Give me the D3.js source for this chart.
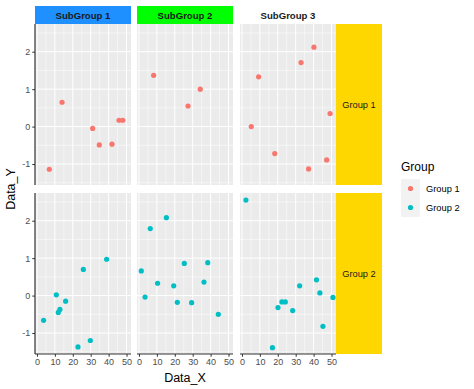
<!DOCTYPE html>
<html>
<head>
<meta charset="utf-8">
<script src="https://cdn.jsdelivr.net/npm/d3@7"></script>
<style>
body { margin: 0; background: #fff; }
text { font-family: "Liberation Sans", Arial, sans-serif; }
</style>
</head>
<body>
<svg id="chart" width="474" height="389"></svg>
<script>
// facet labels
var subGroups = ["SubGroup 1", "SubGroup 2", "SubGroup 3"];
var groups = ["Group 1", "Group 2"];
var xTicks = [0, 10, 20, 30, 40, 50];
var yTicks = [-1, 0, 1, 2];

// points per panel: [x, y]
var g1s1 = [[6.9,-1.14],[14,0.65],[31.1,-0.05],[34.8,-0.49],[41.9,-0.47],[45.8,0.17],[47.9,0.17]];
var g1s2 = [[8.2,1.37],[27.4,0.55],[34.2,1.0]];
var g1s3 = [[40.2,2.12],[33,1.71],[9.3,1.33],[49.2,0.35],[5.2,0.0],[18.3,-0.72],[47.3,-0.89],[37.2,-1.13]];
var g2s1 = [[3.7,-0.66],[10.8,0.02],[11.9,-0.45],[12.8,-0.37],[16,-0.15],[25.9,0.7],[38.9,0.97],[22.9,-1.37],[29.8,-1.2]];
var g2s2 = [[1.3,0.66],[3.4,-0.04],[6.3,1.79],[10.4,0.33],[15.3,2.08],[19.4,0.26],[21.4,-0.18],[25.3,0.86],[29.4,-0.19],[36.3,0.36],[38.4,0.88],[44.3,-0.5]];
var g2s3 = [[2.2,2.55],[17,-1.39],[20.1,-0.32],[22.3,-0.17],[24.2,-0.17],[28.3,-0.4],[32.2,0.26],[41.6,0.42],[43.5,0.07],[50.8,-0.05],[45.2,-0.82]];
var panelData = [[g1s1, g1s2, g1s3], [g2s1, g2s2, g2s3]];

var groupColors = ["#F8766D", "#00BFC4"];
var stripColors = ["#1E90FF", "#00FF00", "#FFFFFF"];

var svg = d3.select("#chart");

var colLeft = [35, 137, 240], panelW = 96;
var rowTop = [24, 193], panelH = 161;

var x = d3.scaleLinear().domain([-1.1, 52.5]).range([0, panelW]);
var y = d3.scaleLinear().domain([-1.56, 2.74]).range([panelH, 0]);

var xMinor = [5, 15, 25, 35, 45];
var yMinor = [-1.5, -0.5, 0.5, 1.5, 2.5];
var fmt = function(d) { return String(d); };

// top strips
subGroups.forEach(function(s, c) {
    svg.append("rect").attr("x", colLeft[c]).attr("y", 6).attr("width", panelW).attr("height", 18)
        .attr("fill", stripColors[c]);
    svg.append("text").attr("x", colLeft[c] + panelW / 2).attr("y", 18.5)
        .attr("text-anchor", "middle").attr("font-size", 9.6).attr("font-weight", "bold")
        .attr("fill", "#1a1a1a").text(s);
});

groups.forEach(function(gname, r) {
    // right strip
    svg.append("rect").attr("x", 336).attr("y", rowTop[r]).attr("width", 46).attr("height", panelH)
        .attr("fill", "#FFD700");
    svg.append("text").attr("x", 359).attr("y", rowTop[r] + panelH / 2 + 3.3)
        .attr("text-anchor", "middle").attr("font-size", 9.3).attr("fill", "#1a1a1a").text(gname);

    subGroups.forEach(function(s, c) {
        var p = svg.append("g").attr("transform", "translate(" + colLeft[c] + "," + rowTop[r] + ")");
        p.append("rect").attr("width", panelW).attr("height", panelH).attr("fill", "#EBEBEB");
        p.selectAll(".xmin").data(xMinor).enter().append("line")
            .attr("x1", x).attr("x2", x).attr("y1", 0).attr("y2", panelH)
            .attr("stroke", "#fff").attr("stroke-width", 0.5);
        p.selectAll(".ymin").data(yMinor).enter().append("line")
            .attr("y1", y).attr("y2", y).attr("x1", 0).attr("x2", panelW)
            .attr("stroke", "#fff").attr("stroke-width", 0.5);
        p.selectAll(".xmaj").data(xTicks).enter().append("line")
            .attr("x1", x).attr("x2", x).attr("y1", 0).attr("y2", panelH)
            .attr("stroke", "#fff").attr("stroke-width", 1);
        p.selectAll(".ymaj").data(yTicks).enter().append("line")
            .attr("y1", y).attr("y2", y).attr("x1", 0).attr("x2", panelW)
            .attr("stroke", "#fff").attr("stroke-width", 1);

        p.selectAll("circle").data(panelData[r][c]).enter().append("circle")
            .attr("cx", function(d) { return x(d[0]); })
            .attr("cy", function(d) { return y(d[1]); })
            .attr("r", 2.6).attr("fill", groupColors[r]);

        if (c == 0) {
            var ya = p.append("g").call(d3.axisLeft(y).tickValues(yTicks).tickFormat(fmt).tickSize(2.75).tickPadding(2));
            ya.select(".domain").attr("stroke", "#333").attr("stroke-width", 1.2).attr("d", "M0,0V" + panelH);
            ya.selectAll(".tick line").attr("stroke", "#333");
            ya.selectAll("text").attr("fill", "#4d4d4d").attr("font-size", 9)
                .style("font-family", "Liberation Sans, Arial, sans-serif");
        }
        if (r == 1) {
            var xa = p.append("g").attr("transform", "translate(0," + panelH + ")")
                .call(d3.axisBottom(x).tickValues(xTicks).tickFormat(fmt).tickSize(2.75).tickPadding(2));
            xa.select(".domain").attr("stroke", "#333").attr("stroke-width", 1.2).attr("d", "M0,0H" + panelW);
            xa.selectAll(".tick line").attr("stroke", "#333");
            xa.selectAll("text").attr("fill", "#4d4d4d").attr("font-size", 9)
                .style("font-family", "Liberation Sans, Arial, sans-serif");
        }
    });
});

// axis titles
svg.append("text").attr("x", 185).attr("y", 382).attr("text-anchor", "middle")
    .attr("font-size", 12.5).attr("fill", "#000").text("Data_X");
svg.append("text").attr("transform", "translate(15,189) rotate(-90)").attr("text-anchor", "middle")
    .attr("font-size", 12.5).attr("fill", "#000").text("Data_Y");

// legend
var leg = svg.append("g").attr("transform", "translate(401,0)");
leg.append("text").attr("x", 0).attr("y", 171).attr("font-size", 12).attr("fill", "#000").text("Group");
groups.forEach(function(gname, i) {
    leg.append("rect").attr("x", 0).attr("y", 179 + i * 19).attr("width", 19).attr("height", 19).attr("fill", "#F2F2F2");
    leg.append("circle").attr("cx", 9.5).attr("cy", 188.5 + i * 19).attr("r", 2.6).attr("fill", groupColors[i]);
    leg.append("text").attr("x", 25).attr("y", 191.8 + i * 19).attr("font-size", 9.3).attr("fill", "#000").text(gname);
});
</script>
</body>
</html>
